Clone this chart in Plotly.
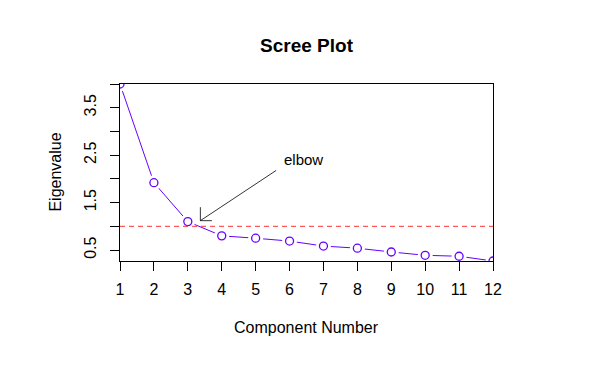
import plotly.graph_objects as go

components = list(range(1, 13))
eigenvalues = [4.00, 1.92, 1.10, 0.80, 0.75, 0.69, 0.585, 0.54, 0.46, 0.39, 0.37, 0.27]
x_ticks = list(range(1, 13))
y_tickvals = [0.5, 1.0, 1.5, 2.0, 2.5, 3.0, 3.5, 4.0]
y_ticktext = ["0.5", "", "1.5", "", "2.5", "", "3.5", ""]
cutoff = 1.0
arrow_tip = (3.37, 1.12)
arrow_tail = (5.65, 2.2)
label_pos = (6.4, 2.4)

PURPLE = "#6600FF"
FONT = "Liberation Sans, Arial, sans-serif"

# the page body has an 8px default margin, so the figure is 8px smaller
W, H = 597, 363

fig = go.Figure()
# connecting line
fig.add_trace(go.Scatter(x=components, y=eigenvalues, mode="lines",
                         line=dict(color=PURPLE, width=1), hoverinfo="skip"))
# white halos to create the gaps of R's type="b"
fig.add_trace(go.Scatter(x=components, y=eigenvalues, mode="markers",
                         marker=dict(color="white", size=15, line=dict(width=0)),
                         hoverinfo="skip"))
# hollow circles
fig.add_trace(go.Scatter(x=components, y=eigenvalues, mode="markers",
                         marker=dict(symbol="circle-open", color=PURPLE, size=8,
                                     line=dict(width=1.3, color=PURPLE))))

fig.add_shape(type="line", xref="paper", x0=0, x1=1, yref="y", y0=cutoff, y1=cutoff,
              line=dict(color="#FF5A5A", width=1.3, dash="5px,4px"), layer="above")

# arrow shaft
fig.add_annotation(x=arrow_tip[0], y=arrow_tip[1], ax=arrow_tail[0], ay=arrow_tail[1],
                   xref="x", yref="y", axref="x", ayref="y", text="", showarrow=True,
                   arrowhead=0, arrowwidth=0.8, arrowcolor="black",
                   standoff=0, startstandoff=0)
# open arrow head: two short strokes from the tip (offsets in pixels)
for dx, dy in [(0, -15), (13, 0)]:
    fig.add_annotation(x=arrow_tip[0], y=arrow_tip[1], ax=dx, ay=dy,
                       xref="x", yref="y", text="", showarrow=True,
                       arrowhead=0, arrowwidth=0.8, arrowcolor="black",
                       standoff=0, startstandoff=0)
fig.add_annotation(x=label_pos[0], y=label_pos[1], xref="x", yref="y", text="elbow",
                   showarrow=False, font=dict(family=FONT, size=15, color="black"),
                   xanchor="center", yanchor="middle")

# axis titles
fig.add_annotation(x=0.5, y=-0.3785, xref="paper", yref="paper", text="Component Number",
                   showarrow=False, font=dict(family=FONT, size=16, color="black"),
                   xanchor="center", yanchor="middle")
fig.add_annotation(x=-0.174, y=0.5, xref="paper", yref="paper", text="Eigenvalue",
                   showarrow=False, textangle=-90,
                   font=dict(family=FONT, size=16, color="black"),
                   xanchor="center", yanchor="middle")

axis_common = dict(showline=True, mirror=True, linecolor="black", linewidth=1,
                   ticks="outside", ticklen=9, tickcolor="black", tickwidth=1,
                   showgrid=False, zeroline=False,
                   tickfont=dict(family=FONT, size=16, color="black"))

fig.update_layout(
    width=W, height=H,
    margin=dict(l=112, r=112, t=76, b=110),
    paper_bgcolor="white", plot_bgcolor="white",
    showlegend=False,
    title=dict(text="<b>Scree Plot</b>", x=0.5, xanchor="center", xref="paper",
               y=1 - 37 / H, yanchor="middle",
               font=dict(family=FONT, size=19, color="black")),
    xaxis=dict(range=[min(components), max(components)], tickvals=x_ticks,
               ticklabelstandoff=5, **axis_common),
    yaxis=dict(range=[min(eigenvalues), max(eigenvalues)], tickvals=y_tickvals,
               ticktext=y_ticktext, tickangle=-90, ticklabelstandoff=8, **axis_common),
)

fig.write_html("out.html")
